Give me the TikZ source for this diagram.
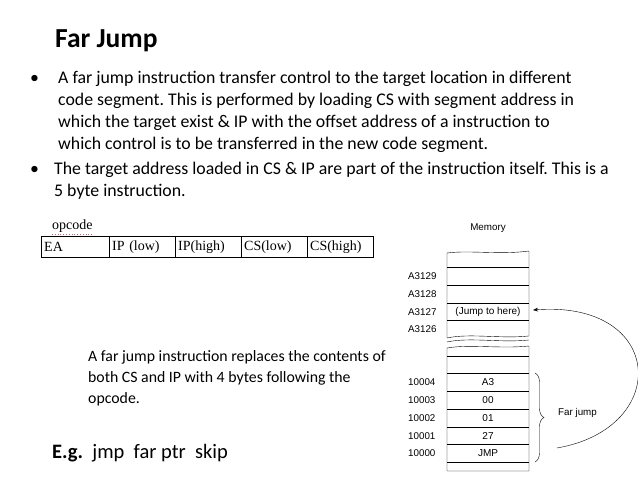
\documentclass[tikz,border=0pt]{standalone}
\usepackage{fontspec}
\setmainfont{Carlito}
\newfontfamily\tnr{Liberation Serif}
\newfontfamily\arl{Liberation Sans}
\usetikzlibrary{decorations.pathreplacing,arrows.meta}
\frenchspacing
\begin{document}
\begin{tikzpicture}[x=1pt,y=-1pt,
  txt/.style={anchor=base west,inner sep=0,font=\fontsize{17.8}{20}\selectfont},
  cell/.style={draw,minimum height=21,anchor=north west,inner sep=3,font=\tnr\fontsize{14}{15}\selectfont},
  addr/.style={font=\arl\fontsize{9.8}{11}\selectfont,inner sep=0},
  mv/.style={font=\arl\fontsize{10}{11}\selectfont,inner sep=0}]
\useasboundingbox (0,0) rectangle (638,478);
\node[anchor=base west,inner sep=0,font=\bfseries\fontsize{27.5}{30}\selectfont] (title) at (55,48) {Far Jump};
\node[txt] (b1) at (30,84) {•};
\node[txt] (l1) at (58,84) {A far jump instruction transfer control to the target location in different};
\node[txt] (l2) at (58,106) {code segment. This is performed by loading CS with segment address in};
\node[txt] (l3) at (58,128) {which the target exist \& IP with the offset address of a instruction to};
\node[txt] (l4) at (58,150) {which control is to be transferred in the new code segment.};
\node[txt] (b2) at (30,175) {•};
\node[txt] (l5) at (54,175) {The target address loaded in CS \& IP are part of the instruction itself. This is a};
\node[txt] (l6) at (54,197) {5 byte instruction.};
\node[anchor=base west,inner sep=0,font=\tnr\fontsize{14}{15}\selectfont] (op) at (52,230) {opcode};
\draw[red!70,dotted,thick] (52,234) -- (94,234);
\foreach \a/\b/\t [count=\i] in {41/109/EA,109/175/IP (low),175/241/IP(high),241/307/CS(low),307/373/CS(high)}{
  \node[cell,minimum width=\b-\a,text width=\b-\a-6,align=left] (c\i) at (\a,236) {\t};}
\node[anchor=base west,inner sep=0,font=\fontsize{15.8}{21}\selectfont,align=left] (desc) at (88,404)
 {A far jump instruction replaces the contents of\\both CS and IP with 4 bytes following the\\opcode.};
\node[anchor=base west,inner sep=0,font=\fontsize{20.5}{24}\selectfont] (eg) at (52,459) {\textbf{E.g.}\ \ jmp\ \ far ptr\ \ skip};
% memory
\node[addr] (mem) at (488,228) {Memory};
\draw (447,253) .. controls (470,250) and (500,255) .. (529,251) (447,253) -- (447,338) (529,251) -- (529,336);
\draw (447,338) .. controls (470,333) and (500,339) .. (529,336);
\draw (447,342) .. controls (470,337) and (500,343) .. (529,340);
\foreach \y in {267,285,303,320} \draw (447,\y) -- (529,\y);
\draw (447,348) .. controls (470,344) and (500,349) .. (529,346) (447,348) -- (447,471) (529,346) -- (529,471) (447,471) -- (529,471);
\foreach \y in {356,373,391,409,427,444,462} \draw (447,\y) -- (529,\y);
\foreach \n/\y in {A3129/276,A3128/294,A3127/312,A3126/329,10004/382,10003/400,10002/418,10001/436,10000/453}
  \node[addr,anchor=west] (a\n) at (408,\y) {\n};
\node[mv] (jh) at (488,312) {(Jump to here)};
\foreach \t/\y [count=\i] in {A3/382,00/400,01/418,27/436,JMP/453} \node[mv] (v\i) at (488,\y) {\t};
\draw[decorate,decoration={brace,amplitude=9}] (535,373) -- (535,462);
\node[addr,anchor=west] (fj) at (558,413) {Far jump};
\coordinate (s) at (557,448);
\draw[-{Stealth[length=5]}] (s) .. controls (672,428) and (665,300) .. (533,310);
\end{tikzpicture}
\end{document}
